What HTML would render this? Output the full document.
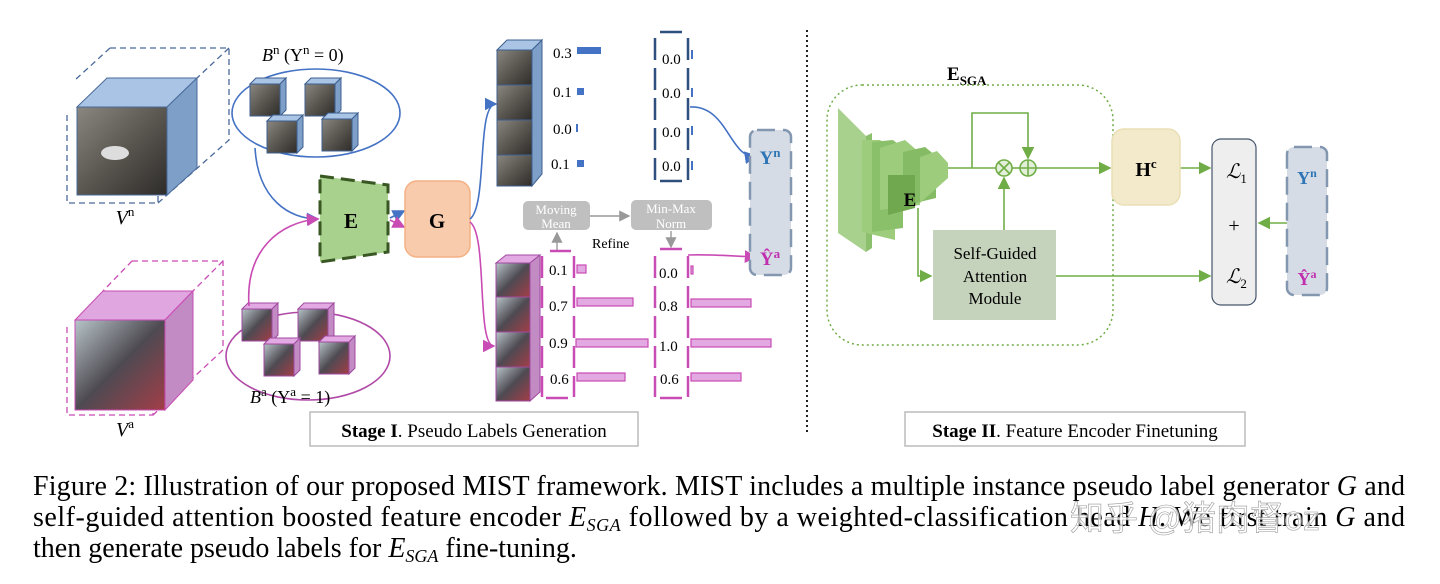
<!DOCTYPE html>
<html><head><meta charset="utf-8"><style>
body{margin:0;background:#fff;width:1440px;height:579px;overflow:hidden}
svg text{font-family:"Liberation Serif",serif}
</style></head><body>
<svg width="1440" height="579" viewBox="0 0 1440 579" xmlns="http://www.w3.org/2000/svg">
<defs>
<linearGradient id="img" x1="0" y1="0" x2="1" y2="1"><stop offset="0" stop-color="#8a8680"/><stop offset=".5" stop-color="#5a5650"/><stop offset="1" stop-color="#2e2c2a"/></linearGradient>
<linearGradient id="imgA" x1="0" y1="0" x2="1" y2="1"><stop offset="0" stop-color="#b7c4c8"/><stop offset=".5" stop-color="#4e4a52"/><stop offset="1" stop-color="#a33e48"/></linearGradient>
<marker id="ab" markerWidth="8" markerHeight="8" refX="7" refY="4" orient="auto"><path d="M0,0 L8,4 L0,8z" fill="#4472c4"/></marker>
<marker id="ap" markerWidth="8" markerHeight="8" refX="7" refY="4" orient="auto"><path d="M0,0 L8,4 L0,8z" fill="#c94bb4"/></marker>
<marker id="ag" markerWidth="8" markerHeight="8" refX="7" refY="4" orient="auto"><path d="M0,0 L8,4 L0,8z" fill="#70ad47"/></marker>
<marker id="agr" markerWidth="8" markerHeight="8" refX="7" refY="4" orient="auto"><path d="M0,0 L8,4 L0,8z" fill="#999"/></marker>
<g id="bc" stroke="#3d5f8f" stroke-width="1"><path d="M0,6 L6,0 L36,0 L30,6z" fill="#a9c4e4"/><path d="M30,6 L36,0 L36,32 L30,38z" fill="#7d9fc8"/><rect x="0" y="6" width="30" height="32" fill="url(#img)"/></g>
<g id="pc" stroke="#a04aa0" stroke-width="1"><path d="M0,6 L6,0 L36,0 L30,6z" fill="#e3a9e3"/><path d="M30,6 L36,0 L36,32 L30,38z" fill="#c38bc3"/><rect x="0" y="6" width="30" height="32" fill="url(#imgA)"/></g>
</defs>

<g stroke="#4a6a9a" stroke-width="1.3" fill="none" stroke-dasharray="6,4">
<path d="M67,115 L67,203 L158,203 L158,115"/><path d="M110,48 L229,48 L229,140 L158,203"/><path d="M110,48 L75,80"/><path d="M229,48 L197,78"/>
</g>
<path d="M77,107 L107,78 L197,78 L167,107z" fill="#a9c4e4" stroke="#4a6a9a"/>
<path d="M167,107 L197,78 L197,168 L167,195z" fill="#7d9fc8" stroke="#4a6a9a"/>
<rect x="77" y="107" width="90" height="88" fill="url(#img)" stroke="#4a6a9a"/>
<ellipse cx="115" cy="153" rx="14" ry="7" fill="#ddd"/>
<text x="125" y="224" font-size="20" font-style="italic" text-anchor="middle">V<tspan font-size="13" font-style="normal" dy="-8">n</tspan></text>

<text x="262" y="61" font-size="18" font-style="italic">B<tspan font-style="normal" font-size="13" dy="-7">n</tspan><tspan font-style="normal" dy="7"> (Y</tspan><tspan font-style="normal" font-size="13" dy="-7">n</tspan><tspan font-style="normal" dy="7"> = 0)</tspan></text>
<ellipse cx="316" cy="113" rx="84" ry="44" fill="none" stroke="#4472c4" stroke-width="1.6"/>
<use href="#bc" x="250" y="78"/><use href="#bc" x="305" y="78"/><use href="#bc" x="267" y="115"/><use href="#bc" x="322" y="113"/>

<g stroke="#c94bb4" stroke-width="1.3" fill="none" stroke-dasharray="6,4">
<path d="M67,327 L67,415 L153,415 L153,327"/><path d="M132,261 L223,261 L223,350 L153,415"/><path d="M132,261 L103,291"/><path d="M223,261 L193,291"/>
</g>
<path d="M75,320 L103,291 L193,291 L165,320z" fill="#dfa6df" stroke="#c94bb4"/>
<path d="M165,320 L193,291 L193,380 L165,410z" fill="#c38bc3" stroke="#c94bb4"/>
<rect x="75" y="320" width="90" height="90" fill="url(#imgA)" stroke="#c94bb4"/>
<text x="125" y="436" font-size="20" font-style="italic" text-anchor="middle">V<tspan font-size="13" font-style="normal" dy="-8">a</tspan></text>

<ellipse cx="308" cy="356" rx="82" ry="44" fill="none" stroke="#b04aa8" stroke-width="1.6"/>
<use href="#pc" x="242" y="303"/><use href="#pc" x="298" y="303"/><use href="#pc" x="264" y="338"/><use href="#pc" x="319" y="336"/>
<text x="250" y="403" font-size="18" font-style="italic">B<tspan font-style="normal" font-size="13" dy="-7">a</tspan><tspan font-style="normal" dy="7"> (Y</tspan><tspan font-style="normal" font-size="13" dy="-7">a</tspan><tspan font-style="normal" dy="7"> = 1)</tspan></text>

<path d="M255,148 C258,200 290,219 318,219" fill="none" stroke="#4472c4" stroke-width="1.6" marker-end="url(#ab)"/>
<path d="M249,306 C245,250 280,222 318,219" fill="none" stroke="#c94bb4" stroke-width="1.6" marker-end="url(#ap)"/>

<path d="M320,176 L388,185 L388,252 L320,262z" fill="#a9d18e" stroke="#385723" stroke-width="3" stroke-dasharray="14,7"/>
<text x="351" y="228" font-size="21" font-weight="bold" text-anchor="middle">E</text>
<path d="M390,218 L404,211" stroke="#4472c4" stroke-width="1.6" marker-end="url(#ab)"/>
<path d="M390,220 L404,227" stroke="#c94bb4" stroke-width="1.6" marker-end="url(#ap)"/>
<rect x="405" y="181" width="65" height="76" rx="12" fill="#f8cbad" stroke="#f4b183" stroke-width="1.5"/>
<text x="437" y="228" font-size="21" font-weight="bold" text-anchor="middle">G</text>
<path d="M470,219 C488,205 476,104 496,104" fill="none" stroke="#4472c4" stroke-width="1.6" marker-end="url(#ab)"/>
<path d="M470,222 C488,235 476,346 494,346" fill="none" stroke="#c94bb4" stroke-width="1.6" marker-end="url(#ap)"/>

<g stroke="#3d5f8f" stroke-width="1">
<path d="M497,50 L507,40 L542,40 L532,50z" fill="#a9c4e4"/>
<path d="M532,50 L542,40 L542,174 L532,186z" fill="#7d9fc8"/>
<rect x="497" y="50" width="35" height="35" fill="url(#img)"/>
<rect x="497" y="85" width="35" height="35" fill="url(#img)"/>
<rect x="497" y="120" width="35" height="35" fill="url(#img)"/>
<rect x="497" y="155" width="35" height="31" fill="url(#img)"/>
</g>
<g font-size="15">
<text x="553" y="58">0.3</text><text x="553" y="97">0.1</text><text x="553" y="134">0.0</text><text x="551" y="169">0.1</text>
<text x="662" y="64">0.0</text><text x="662" y="98">0.0</text><text x="662" y="137">0.0</text><text x="662" y="171">0.0</text>
</g>
<g fill="#4472c4"><rect x="577" y="47" width="24" height="7"/><rect x="577" y="88" width="7" height="7"/><rect x="576" y="124" width="2" height="8"/><rect x="577" y="160" width="7" height="7"/>
<rect x="691" y="50" width="2" height="9"/><rect x="691" y="88" width="2" height="9"/><rect x="691" y="126" width="2" height="9"/><rect x="691" y="161" width="2" height="9"/></g>
<g stroke="#2f4f7f" stroke-width="2.5" fill="none" stroke-dasharray="22,8">
<path d="M655,38 L655,180"/><path d="M688,38 L688,180"/><path d="M660,32 L682,32"/><path d="M660,181 L682,181"/>
</g>
<path d="M690,107 C728,105 730,160 756,156" fill="none" stroke="#4472c4" stroke-width="1.6" marker-end="url(#ab)"/>

<rect x="523" y="201" width="67" height="29" rx="5" fill="#bfbfbf"/>
<text x="556" y="214" font-size="13" fill="#fff" text-anchor="middle">Moving</text><text x="556" y="228" font-size="13" fill="#fff" text-anchor="middle">Mean</text>
<rect x="631" y="200" width="81" height="30" rx="5" fill="#bfbfbf"/>
<text x="671" y="213" font-size="13" fill="#fff" text-anchor="middle">Min-Max</text><text x="671" y="228" font-size="13" fill="#fff" text-anchor="middle">Norm</text>
<path d="M590,216 L629,216" stroke="#999" stroke-width="1.4" marker-end="url(#agr)"/>
<path d="M557,251 L557,233" stroke="#999" stroke-width="1.4" marker-end="url(#agr)"/>
<path d="M671,231 L671,247" stroke="#999" stroke-width="1.4" marker-end="url(#agr)"/>
<text x="592" y="248" font-size="14">Refine</text>

<g stroke="#a04aa0" stroke-width="1">
<path d="M496,263 L506,255 L540,255 L530,263z" fill="#e3a9e3"/>
<path d="M530,263 L540,255 L540,392 L530,401z" fill="#c38bc3"/>
<rect x="496" y="263" width="34" height="34" fill="url(#imgA)"/>
<rect x="496" y="297" width="34" height="35" fill="url(#imgA)"/>
<rect x="496" y="332" width="34" height="35" fill="url(#imgA)"/>
<rect x="496" y="367" width="34" height="34" fill="url(#imgA)"/>
</g>
<g stroke="#c94bb4" stroke-width="2.5" fill="none" stroke-dasharray="22,8">
<path d="M542,256 L542,397"/><path d="M574,256 L574,397"/><path d="M550,251 L571,251"/><path d="M546,398 L570,398"/>
<path d="M655,256 L655,397"/><path d="M688,256 L688,397"/><path d="M660,249 L682,249"/><path d="M660,398 L682,398"/>
</g>
<g font-size="15">
<text x="549" y="275">0.1</text><text x="549" y="311">0.7</text><text x="549" y="348">0.9</text><text x="550" y="384">0.6</text>
<text x="659" y="278">0.0</text><text x="659" y="311">0.8</text><text x="659" y="351">1.0</text><text x="660" y="384">0.6</text>
</g>
<g fill="#e3a9e3" stroke="#c94bb4" stroke-width="1.2">
<rect x="577" y="265" width="9" height="8"/><rect x="577" y="298" width="56" height="8"/><rect x="576" y="339" width="72" height="8"/><rect x="577" y="373" width="48" height="8"/>
<rect x="691" y="266" width="2" height="8"/><rect x="691" y="299" width="60" height="8"/><rect x="691" y="339" width="80" height="8"/><rect x="691" y="373" width="50" height="8"/>
</g>
<path d="M688,255 C710,254 730,256 756,257" fill="none" stroke="#c94bb4" stroke-width="1.6" marker-end="url(#ap)"/>

<rect x="750" y="130" width="41" height="145" rx="7" fill="#d6dce5" stroke="#8497b0" stroke-width="2.5" stroke-dasharray="18,8"/>
<text x="770" y="164" font-size="19" font-weight="bold" fill="#2e75b6" text-anchor="middle">Y<tspan font-size="13" dy="-7">n</tspan></text>
<text x="770" y="265" font-size="19" font-weight="bold" fill="#c02eb0" text-anchor="middle">Ŷ<tspan font-size="13" dy="-7">a</tspan></text>

<rect x="310" y="412" width="328" height="34" fill="#fff" stroke="#bbb" stroke-width="1.5"/>
<text x="474" y="437" font-size="19" text-anchor="middle"><tspan font-weight="bold">Stage I</tspan>. Pseudo Labels Generation</text>

<line x1="807" y1="30" x2="807" y2="435" stroke="#222" stroke-width="2" stroke-dasharray="2,3"/>

<text x="947" y="80" font-size="19" font-weight="bold">E<tspan font-size="13" dy="5">SGA</tspan></text>
<rect x="827" y="85" width="286" height="260" rx="35" fill="none" stroke="#70ad47" stroke-width="1.5" stroke-dasharray="2,3"/>
<polygon points="838,108 866,136 866,252 838,233" fill="#a9d18e"/>
<polygon points="866,136 872,133 872,248 866,252" fill="#8dc06d"/>
<polygon points="862,140 880,140 895,150 895,240 862,232" fill="#9ccc7c"/>
<polygon points="872,142 893,140 903,148 903,228 872,232" fill="#8bc06a"/>
<polygon points="880,148 905,140 920,153 920,205 880,210" fill="#9ccc7c"/>
<polygon points="903,152 925,147 936,156 936,198 903,206" fill="#86bb65"/>
<polygon points="920,157 937,151 948,163 948,178 920,203" fill="#9ccc7c"/>
<polygon points="888,175 915,175 915,208 888,215" fill="#70a850"/>
<text x="910" y="206" font-size="19" font-weight="bold" text-anchor="middle">E</text>
<g stroke="#70ad47" stroke-width="1.6" fill="none">
<path d="M948,168 L996,168"/><path d="M1012,168 L1020,168"/>
<path d="M1036,168 L1110,168" marker-end="url(#ag)"/>
<path d="M972,168 L972,113 L1028,113 L1028,158" marker-end="url(#ag)"/>
<path d="M1004,230 L1004,178" marker-end="url(#ag)"/>
<path d="M918,208 L918,276 L931,276" marker-end="url(#ag)"/>
<path d="M1056,276 L1210,276" marker-end="url(#ag)"/>
<path d="M1180,168 L1210,168" marker-end="url(#ag)"/>
<path d="M1287,223 L1259,223" marker-end="url(#ag)"/>
<circle cx="1004" cy="168" r="8" fill="#e2f0d9"/><path d="M998,162 L1010,174 M1010,162 L998,174"/>
<circle cx="1028" cy="168" r="8" fill="#e2f0d9"/><path d="M1020,168 L1036,168 M1028,160 L1028,176"/>
</g>
<rect x="933" y="230" width="123" height="90" fill="#c5d2bc"/>
<text x="995" y="259" font-size="17" text-anchor="middle">Self-Guided</text>
<text x="995" y="282" font-size="17" text-anchor="middle">Attention</text>
<text x="995" y="304" font-size="17" text-anchor="middle">Module</text>
<rect x="1112" y="129" width="68" height="76" rx="12" fill="#f2eacb" stroke="#eadfb5" stroke-width="1.5"/>
<text x="1146" y="176" font-size="20" font-weight="bold" text-anchor="middle">H<tspan font-size="13" dy="-8">c</tspan></text>
<rect x="1212" y="139" width="44" height="166" rx="9" fill="#eeeeee" stroke="#44546a" stroke-width="1.2"/>
<text x="1226" y="178" font-size="20" font-style="italic">ℒ<tspan font-size="13" font-style="normal" dy="5">1</tspan></text>
<text x="1234" y="232" font-size="20" text-anchor="middle">+</text>
<text x="1226" y="283" font-size="20" font-style="italic">ℒ<tspan font-size="13" font-style="normal" dy="5">2</tspan></text>
<rect x="1287" y="147" width="40" height="148" rx="7" fill="#d6dce5" stroke="#8497b0" stroke-width="2.5" stroke-dasharray="18,8"/>
<text x="1307" y="184" font-size="18" font-weight="bold" fill="#2e75b6" text-anchor="middle">Y<tspan font-size="12" dy="-7">n</tspan></text>
<text x="1307" y="285" font-size="18" font-weight="bold" fill="#c02eb0" text-anchor="middle">Ŷ<tspan font-size="12" dy="-7">a</tspan></text>
<rect x="905" y="412" width="340" height="34" fill="#fff" stroke="#bbb" stroke-width="1.5"/>
<text x="1075" y="437" font-size="19" text-anchor="middle"><tspan font-weight="bold">Stage II</tspan>. Feature Encoder Finetuning</text>

<g font-size="28">
<text x="33" y="495" textLength="1372" lengthAdjust="spacing">Figure 2: Illustration of our proposed MIST framework. MIST includes a multiple instance pseudo label generator <tspan font-style="italic">G</tspan> and</text>
<text x="33" y="526" textLength="1372" lengthAdjust="spacing">self-guided attention boosted feature encoder <tspan font-style="italic">E<tspan font-size="18" dy="5">SGA</tspan></tspan><tspan dy="-5"> followed by a weighted-classification head <tspan font-style="italic">H</tspan>. We first train <tspan font-style="italic">G</tspan> and</tspan></text>
<text x="33" y="557">then generate pseudo labels for <tspan font-style="italic">E<tspan font-size="18" dy="5">SGA</tspan></tspan><tspan dy="-5"> fine-tuning.</tspan></text>
</g>
<text x="1070" y="530" font-size="34" fill="#fff" fill-opacity=".75" stroke="#999" stroke-width=".6" style="font-family:'Liberation Sans','Noto Sans CJK SC',sans-serif">知乎 @猪肉督oz</text>
</svg>
</body></html>
